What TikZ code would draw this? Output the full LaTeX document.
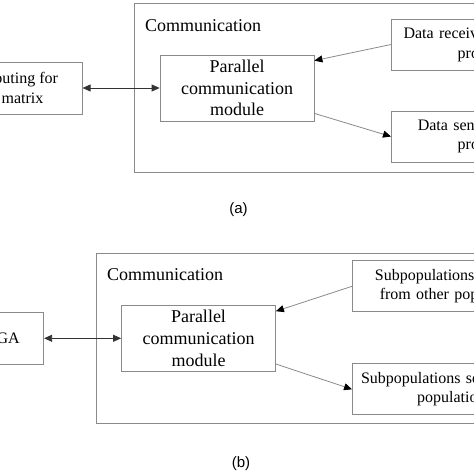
\documentclass[tikz,border=0pt]{standalone}
\usepackage{fontspec}
\setmainfont{Liberation Serif}
\setsansfont{Liberation Sans}
\definecolor{framegray}{HTML}{8A8A8A}
\usetikzlibrary{arrows.meta, positioning}

\begin{document}
\begin{tikzpicture}[x=1pt, y=-1pt,
    node distance=77pt,
    box/.style={rectangle, draw=framegray, line width=0.8pt, inner sep=0pt,
                align=center, font=\fontsize{16pt}{19.2pt}\selectfont},
    modbox/.style={box, minimum width=154pt, minimum height=66pt,
                   font=\fontsize{18pt}{21.6pt}\selectfont},
    sidebox/.style={box, anchor=west, inner xsep=4pt, minimum height=51pt},
    title/.style={anchor=base west, inner sep=0pt,
                  font=\fontsize{18pt}{21.6pt}\selectfont},
    frame/.style={draw=framegray, line width=0.8pt},
    arr/.style={-{Triangle[length=8pt, width=7pt, color=black]},
                draw=framegray, line width=0.8pt},
    darr/.style={{Triangle[length=8pt, width=7pt]}-{Triangle[length=8pt, width=7pt]},
                 draw=black!80, line width=0.8pt},
    caption/.style={font=\sffamily\fontsize{15pt}{18pt}\selectfont}
  ]
  \useasboundingbox (0,0) rectangle (474,474);
  \clip (0,0) rectangle (474,474);

  % (a)
  \draw[frame] (134,3.3) rectangle (520,172.7);
  \node[title] (comA) at (145,31.5) {Communication};
  \node[modbox] (parA) at (237,88) {Parallel\\communication\\module};
  \node[box, left=of parA, minimum width=143pt, minimum height=52pt] (calcA)
    {Computing for\\the matrix};
  \node[sidebox, text width=186pt] (recvA) at (391,44.5)
    {Data receiving from other\\processes};
  \node[sidebox, text width=186pt] (sendA) at (391,136.5)
    {Data sending to other\\processes};

  \draw[darr] (calcA) -- (parA);
  \draw[arr] (recvA.west) -- ([yshift=-6pt]parA.north east);
  \draw[arr] ([yshift=8pt]parA.south east) -- (sendA.west);
  \node[caption] (capA) at (238.5,210) {(a)};

  % (b)
  \draw[frame] (96,253.7) rectangle (520,423);
  \node[title] (comB) at (107,280) {Communication};
  \node[modbox] (parB) at (198.5,338.3) {Parallel\\communication\\module};
  \node[box, left=of parB, minimum width=71pt, minimum height=51.3pt] (gaB) {GA};
  \node[sidebox, text width=196pt] (recvB) at (352,286.3)
    {Subpopulations received\\from other populations};
  \node[sidebox, text width=196pt] (sendB) at (352,389.3)
    {Subpopulations sent to other\\populations};

  \draw[darr] (gaB) -- (parB);
  \draw[arr] (recvB.west) -- ([yshift=-6.3pt]parB.north east);
  \draw[arr] ([yshift=7.7pt]parB.south east) -- (sendB.west);
  \node[caption] (capB) at (241,464) {(b)};
\end{tikzpicture}
\end{document}
